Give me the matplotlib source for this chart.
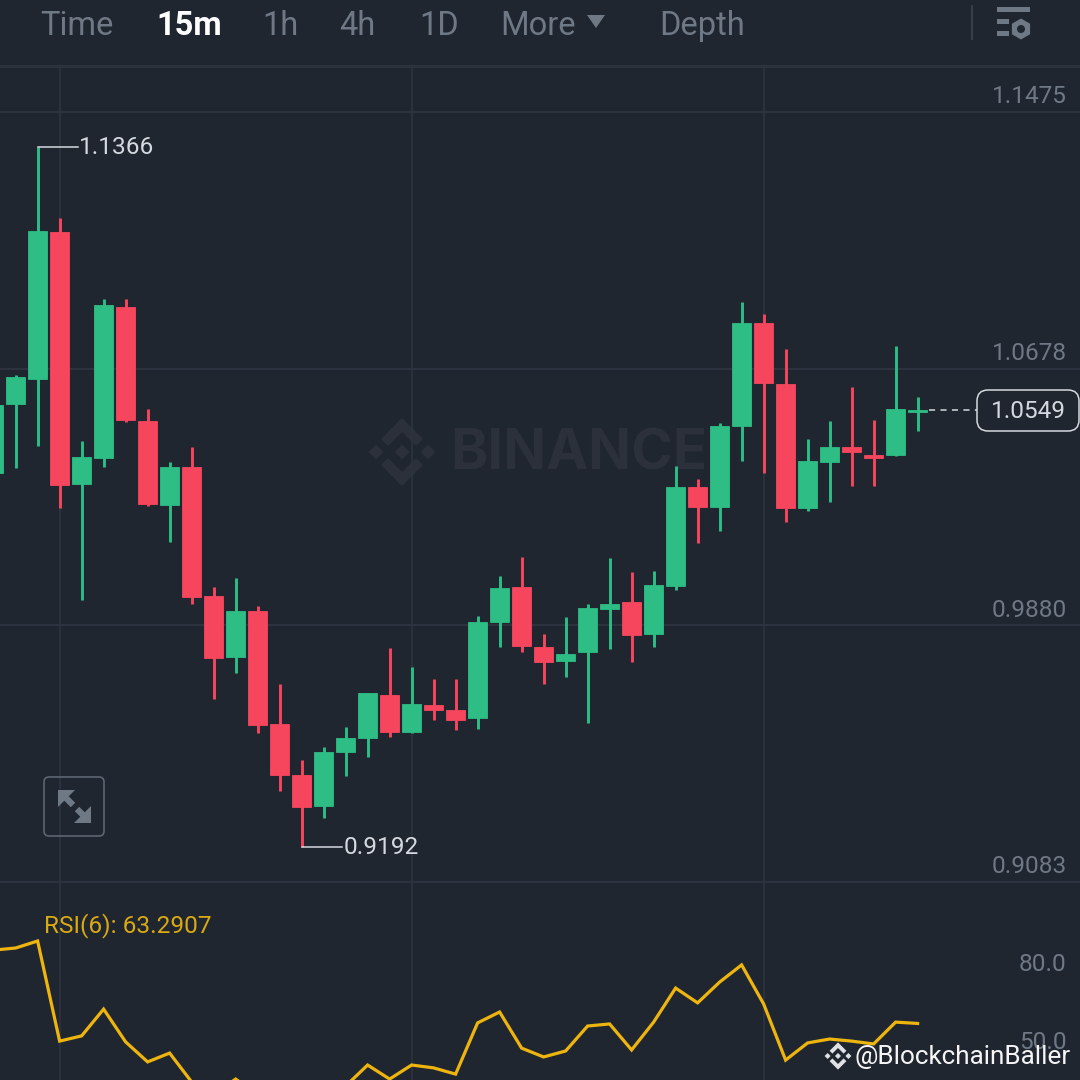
import matplotlib
matplotlib.use("Agg")
import matplotlib.pyplot as plt
from matplotlib.patches import FancyBboxPatch, Polygon, RegularPolygon, Circle, Rectangle

BG = "#1f2630"
GRID = "#2e3540"
GREEN = "#2ebd85"
RED = "#f6465d"
GREY = "#6f7885"
LIGHT = "#d5d9df"
YELLOW = "#eeb50f"
YELLOW_TEXT = "#dba912"

opens = [1.0354, 1.0568, 1.0646, 1.1102, 1.0319, 1.0400, 1.0869, 1.0515, 1.0254, 1.0372, 0.9971,
         0.9782, 0.9925, 0.9574, 0.9415, 0.9319, 0.9487, 0.9530, 0.9664, 0.9549, 0.9633, 0.9617,
         0.9592, 0.9891, 0.9999, 0.9813, 0.9770, 0.9797, 0.9931, 0.9953, 0.9853, 1.0003, 1.0310,
         1.0248, 1.0500, 1.0820, 1.0630, 1.0245, 1.0388, 1.0434, 1.0409, 1.0409, 1.0544]
closes = [1.0565, 1.0652, 1.1105, 1.0316, 1.0403, 1.0875, 1.0518, 1.0257, 1.0372, 0.9968, 0.9779,
          0.9925, 0.9571, 0.9415, 0.9316, 0.9487, 0.9530, 0.9670, 0.9549, 0.9636, 0.9617, 0.9586,
          0.9891, 0.9996, 0.9816, 0.9766, 0.9791, 0.9934, 0.9947, 0.9850, 1.0006, 1.0310, 1.0248,
          1.0500, 1.0820, 1.0633, 1.0245, 1.0391, 1.0434, 1.0419, 1.0400, 1.0552, 1.0549]
highs = [1.0565, 1.0658, 1.1366, 1.1146, 1.0453, 1.0894, 1.0894, 1.0552, 1.0388, 1.0434, 0.9999,
         1.0027, 0.9940, 0.9698, 0.9462, 0.9502, 0.9565, 0.9670, 0.9810, 0.9751, 0.9714, 0.9714,
         0.9909, 1.0034, 1.0093, 0.9853, 0.9906, 0.9947, 1.0090, 1.0046, 1.0049, 1.0375, 1.0335,
         1.0509, 1.0885, 1.0848, 1.0739, 1.0459, 1.0515, 1.0621, 1.0518, 1.0748, 1.0590]
lows = [1.0354, 1.0369, 1.0437, 1.0245, 0.9959, 1.0372, 1.0512, 1.0251, 1.0139, 0.9947, 0.9652,
        0.9732, 0.9546, 0.9366, 0.9192, 0.9282, 0.9412, 0.9471, 0.9533, 0.9546, 0.9586, 0.9555,
        0.9558, 0.9813, 0.9797, 0.9698, 0.9720, 0.9577, 0.9807, 0.9766, 0.9813, 0.9990, 1.0136,
        1.0173, 1.0391, 1.0354, 1.0201, 1.0236, 1.0263, 1.0313, 1.0313, 1.0406, 1.0484]
rsi = [91.5, 92.3, 95.0, 56.5, 58.5, 68.8, 56.2, 48.5, 51.9, 40.8, 35.8,
       41.9, 35.8, 29.2, 26.9, 30.8, 39.2, 47.3, 41.9, 47.3, 46.2, 43.8,
       63.5, 67.7, 53.8, 50.4, 52.7, 62.3, 63.1, 53.1, 63.8, 76.9, 71.2,
       79.2, 85.8, 70.8, 49.2, 55.8, 57.3, 56.5, 55.4, 63.8, 63.2907]

price_ticks = [1.1475, 1.0678, 0.9880, 0.9083]
rsi_ticks = [80.0, 50.0]
time_ticks = [3, 19, 35]
menu_labels = ["Time", "15m", "1h", "4h", "1D", "More", "Depth"]
menu_x = [40, 156, 262, 339, 419, 500, 659]


def draw_logo(ax, cx, cy, scale, color, zorder=1):
    # three small diamonds plus the top and bottom chevrons
    for dx in (-26, 0, 26):
        half = 7.5 * scale
        x0 = cx + dx * scale
        ax.add_patch(Polygon([(x0, cy - half), (x0 + half, cy), (x0, cy + half), (x0 - half, cy)],
                             color=color, lw=0, zorder=zorder))
    for sign in (-1, 1):
        pts = [(0, 34), (21, 13), (14, 6), (0, 20), (-14, 6), (-21, 13)]
        ax.add_patch(Polygon([(cx + px * scale, cy + sign * py * scale) for px, py in pts],
                             color=color, lw=0, zorder=zorder))


def setup_overlay(fig, zorder):
    ax = fig.add_axes([0, 0, 1, 1], zorder=zorder)
    ax.set_xlim(0, 1080)
    ax.set_ylim(1080, 0)
    ax.axis("off")
    return ax


def main():
    plt.rcParams["font.family"] = ["Roboto", "DejaVu Sans"]
    fig = plt.figure(figsize=(10.8, 10.8), dpi=100, facecolor=BG)

    back = setup_overlay(fig, 0)
    draw_logo(back, 402, 452, 1.0, "#2b303b")
    back.text(450, 454, "BINANCE", color="#2b303b", fontsize=40.5, fontweight="bold",
              family=["Inter", "DejaVu Sans"], va="center", ha="left")

    price_ax = fig.add_axes([0, 198 / 1080, 1, 815 / 1080], zorder=1)
    rsi_ax = fig.add_axes([0, 0, 1, 198 / 1080], zorder=1, sharex=price_ax)
    for ax in (price_ax, rsi_ax):
        ax.patch.set_visible(False)
        for spine in ax.spines.values():
            spine.set_visible(False)
        ax.tick_params(length=0, labelleft=False, labelbottom=False)
        ax.set_xticks(time_ticks)
        ax.grid(True, axis="x", color=GRID, lw=1.1, zorder=0)
        ax.set_axisbelow(True)

    price_ax.set_xlim(0.29, 49.381)
    price_ax.set_ylim(0.9083, 1.16148)
    rsi_ax.set_ylim(41.54, 117.69)

    price_ax.set_yticks(price_ticks)
    price_ax.grid(True, axis="y", color=GRID, lw=1.3, zorder=0)
    rsi_ax.set_yticks([])

    idx = list(range(len(opens)))
    colors = [GREEN if c >= o else RED for o, c in zip(opens, closes)]
    price_ax.vlines(idx, lows, highs, colors=colors, lw=2.1, zorder=2)
    bottoms = [min(o, c) for o, c in zip(opens, closes)]
    heights = [abs(c - o) for o, c in zip(opens, closes)]
    price_ax.bar(idx, heights, bottom=bottoms, width=0.88, color=colors, edgecolor=colors,
                 lw=0.6, zorder=3)

    for val in price_ticks:
        price_ax.annotate(f"{val:.4f}", xy=(1, val), xycoords=("axes fraction", "data"),
                          xytext=(-9.6, 11.0), textcoords="offset points", color=GREY,
                          fontsize=17.6, ha="right", va="center")

    # max and min markers
    hi = highs.index(max(highs))
    lo = lows.index(min(lows))
    for i, val in ((hi, highs[hi]), (lo, lows[lo])):
        price_ax.plot([i, i + 40 / 22], [val, val], color=LIGHT, lw=1.1, zorder=4)
        price_ax.annotate(f"{val:.4f}", xy=(i, val), xytext=(30, -0.3), textcoords="offset points",
                          color=LIGHT, fontsize=17.6, va="center", ha="left", zorder=4)

    # last price dashes
    price_ax.plot([idx[-1] + 0.5, 44.75], [closes[-1], closes[-1]], color=LIGHT, lw=1.1,
                  dashes=(4, 3.5), zorder=4)

    rsi_ax.plot(idx, rsi, color=YELLOW, lw=2.3, solid_joinstyle="miter", zorder=2)
    for val in rsi_ticks:
        rsi_ax.annotate(f"{val:.1f}", xy=(1, val), xycoords=("axes fraction", "data"),
                        xytext=(-9.6, 11.4), textcoords="offset points", color=GREY,
                        fontsize=17.6, ha="right", va="center")
    rsi_ax.annotate(f"RSI(6): {rsi[-1]:.4f}", xy=(0, 1), xycoords="axes fraction",
                    xytext=(31.7, -31.3), textcoords="offset points", color=YELLOW_TEXT,
                    fontsize=17.6, va="center", ha="left")

    front = setup_overlay(fig, 2)

    # header
    front.add_patch(Rectangle((0, 64.5), 1080, 3, color="#2b323c", lw=0))
    front.plot([0, 1080], [882, 882], color=GRID, lw=1.3)
    for label, x in zip(menu_labels, menu_x):
        active = label == "15m"
        front.text(x, 26, label, color="#ffffff" if active else GREY, fontsize=23.5,
                   fontweight="bold" if active else "normal", va="center", ha="left")
    front.add_patch(Polygon([(587, 15), (605, 15), (596, 28)], color=GREY, lw=0))
    front.plot([972, 972], [6, 39], color="#3a404c", lw=1.3)
    front.add_patch(Rectangle((997, 7), 33, 5, color=GREY, lw=0))
    front.add_patch(Rectangle((997, 19), 12, 5, color=GREY, lw=0))
    front.add_patch(Rectangle((997, 31), 12, 5, color=GREY, lw=0))
    front.add_patch(RegularPolygon((1021, 29), 6, radius=10.5, color=GREY, lw=0))
    front.add_patch(Circle((1021, 29), 4, color=BG, lw=0))

    # last price box
    front.add_patch(FancyBboxPatch((987, 400), 82, 21, boxstyle="round,pad=10,rounding_size=11",
                                   facecolor=BG, edgecolor=LIGHT, lw=1.1))
    front.text(1028, 412, f"{closes[-1]:.4f}", color=LIGHT, fontsize=17.6, ha="center", va="center")

    # expand button
    front.add_patch(FancyBboxPatch((49, 782), 50, 49, boxstyle="round,pad=5,rounding_size=5",
                                   facecolor="none", edgecolor="#5d6572", lw=1.2))
    front.add_patch(Polygon([(58, 790), (75, 790), (58, 807)], color=GREY, lw=0))
    front.add_patch(Polygon([(91, 823), (74, 823), (91, 806)], color=GREY, lw=0))
    front.plot([63, 73], [795, 805], color=GREY, lw=4.5, solid_capstyle="butt")
    front.plot([86, 77], [818, 809], color=GREY, lw=4.5, solid_capstyle="butt")

    # watermark
    draw_logo(front, 838, 1056, 0.4, "#dfe1e5", zorder=3)
    front.text(855, 1057, "@BlockchainBaller", color="#f5f5f5", fontsize=18.8, ha="left", va="center",
               zorder=3)

    fig.savefig("out.png", dpi=100, facecolor=BG)


if __name__ == "__main__":
    main()
